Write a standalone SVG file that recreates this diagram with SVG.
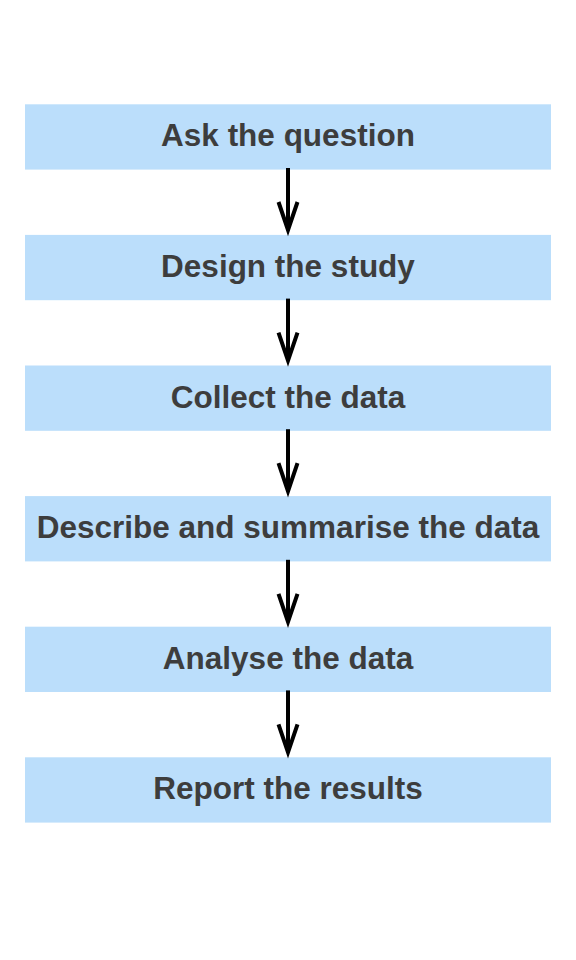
<svg xmlns="http://www.w3.org/2000/svg" width="576" height="960" viewBox="0 0 576 960">
<style>
.box{fill:#bbdefb;}
.lbl{font-family:"Liberation Sans",Arial,sans-serif;font-weight:bold;font-size:31.5px;fill:#3d3d3d;text-anchor:middle;}
.conn{stroke:#000;stroke-width:4;fill:none;}
</style>
<defs>
<marker id="arr" markerUnits="userSpaceOnUse" orient="auto" refX="0" refY="0" markerWidth="40" markerHeight="40" overflow="visible">
<path d="M-28,-9.5 L0,0 L-28,9.5" fill="none" stroke="#000" stroke-width="4" stroke-linejoin="miter"/>
</marker>
</defs>
<rect width="576" height="960" fill="#fff"/>
<g id="n1"><rect class="box" x="25" y="104.3" width="526" height="65.3"/><text class="lbl" x="288" y="146.3">Ask the question</text></g>
<g id="n2"><rect class="box" x="25" y="234.9" width="526" height="65.3"/><text class="lbl" x="288" y="276.9">Design the study</text></g>
<g id="n3"><rect class="box" x="25" y="365.5" width="526" height="65.3"/><text class="lbl" x="288" y="407.5">Collect the data</text></g>
<g id="n4"><rect class="box" x="25" y="496.1" width="526" height="65.3"/><text class="lbl" x="288" y="538.1">Describe and summarise the data</text></g>
<g id="n5"><rect class="box" x="25" y="626.7" width="526" height="65.3"/><text class="lbl" x="288" y="668.7">Analyse the data</text></g>
<g id="n6"><rect class="box" x="25" y="757.3" width="526" height="65.3"/><text class="lbl" x="288" y="799.3">Report the results</text></g>
<g id="connectors">
<line class="conn" x1="288" y1="168" x2="288" y2="230" marker-end="url(#arr)"/>
<line class="conn" x1="288" y1="298.6" x2="288" y2="360.6" marker-end="url(#arr)"/>
<line class="conn" x1="288" y1="429.2" x2="288" y2="491.2" marker-end="url(#arr)"/>
<line class="conn" x1="288" y1="559.8" x2="288" y2="621.8" marker-end="url(#arr)"/>
<line class="conn" x1="288" y1="690.4" x2="288" y2="752.4" marker-end="url(#arr)"/>
</g>
</svg>
